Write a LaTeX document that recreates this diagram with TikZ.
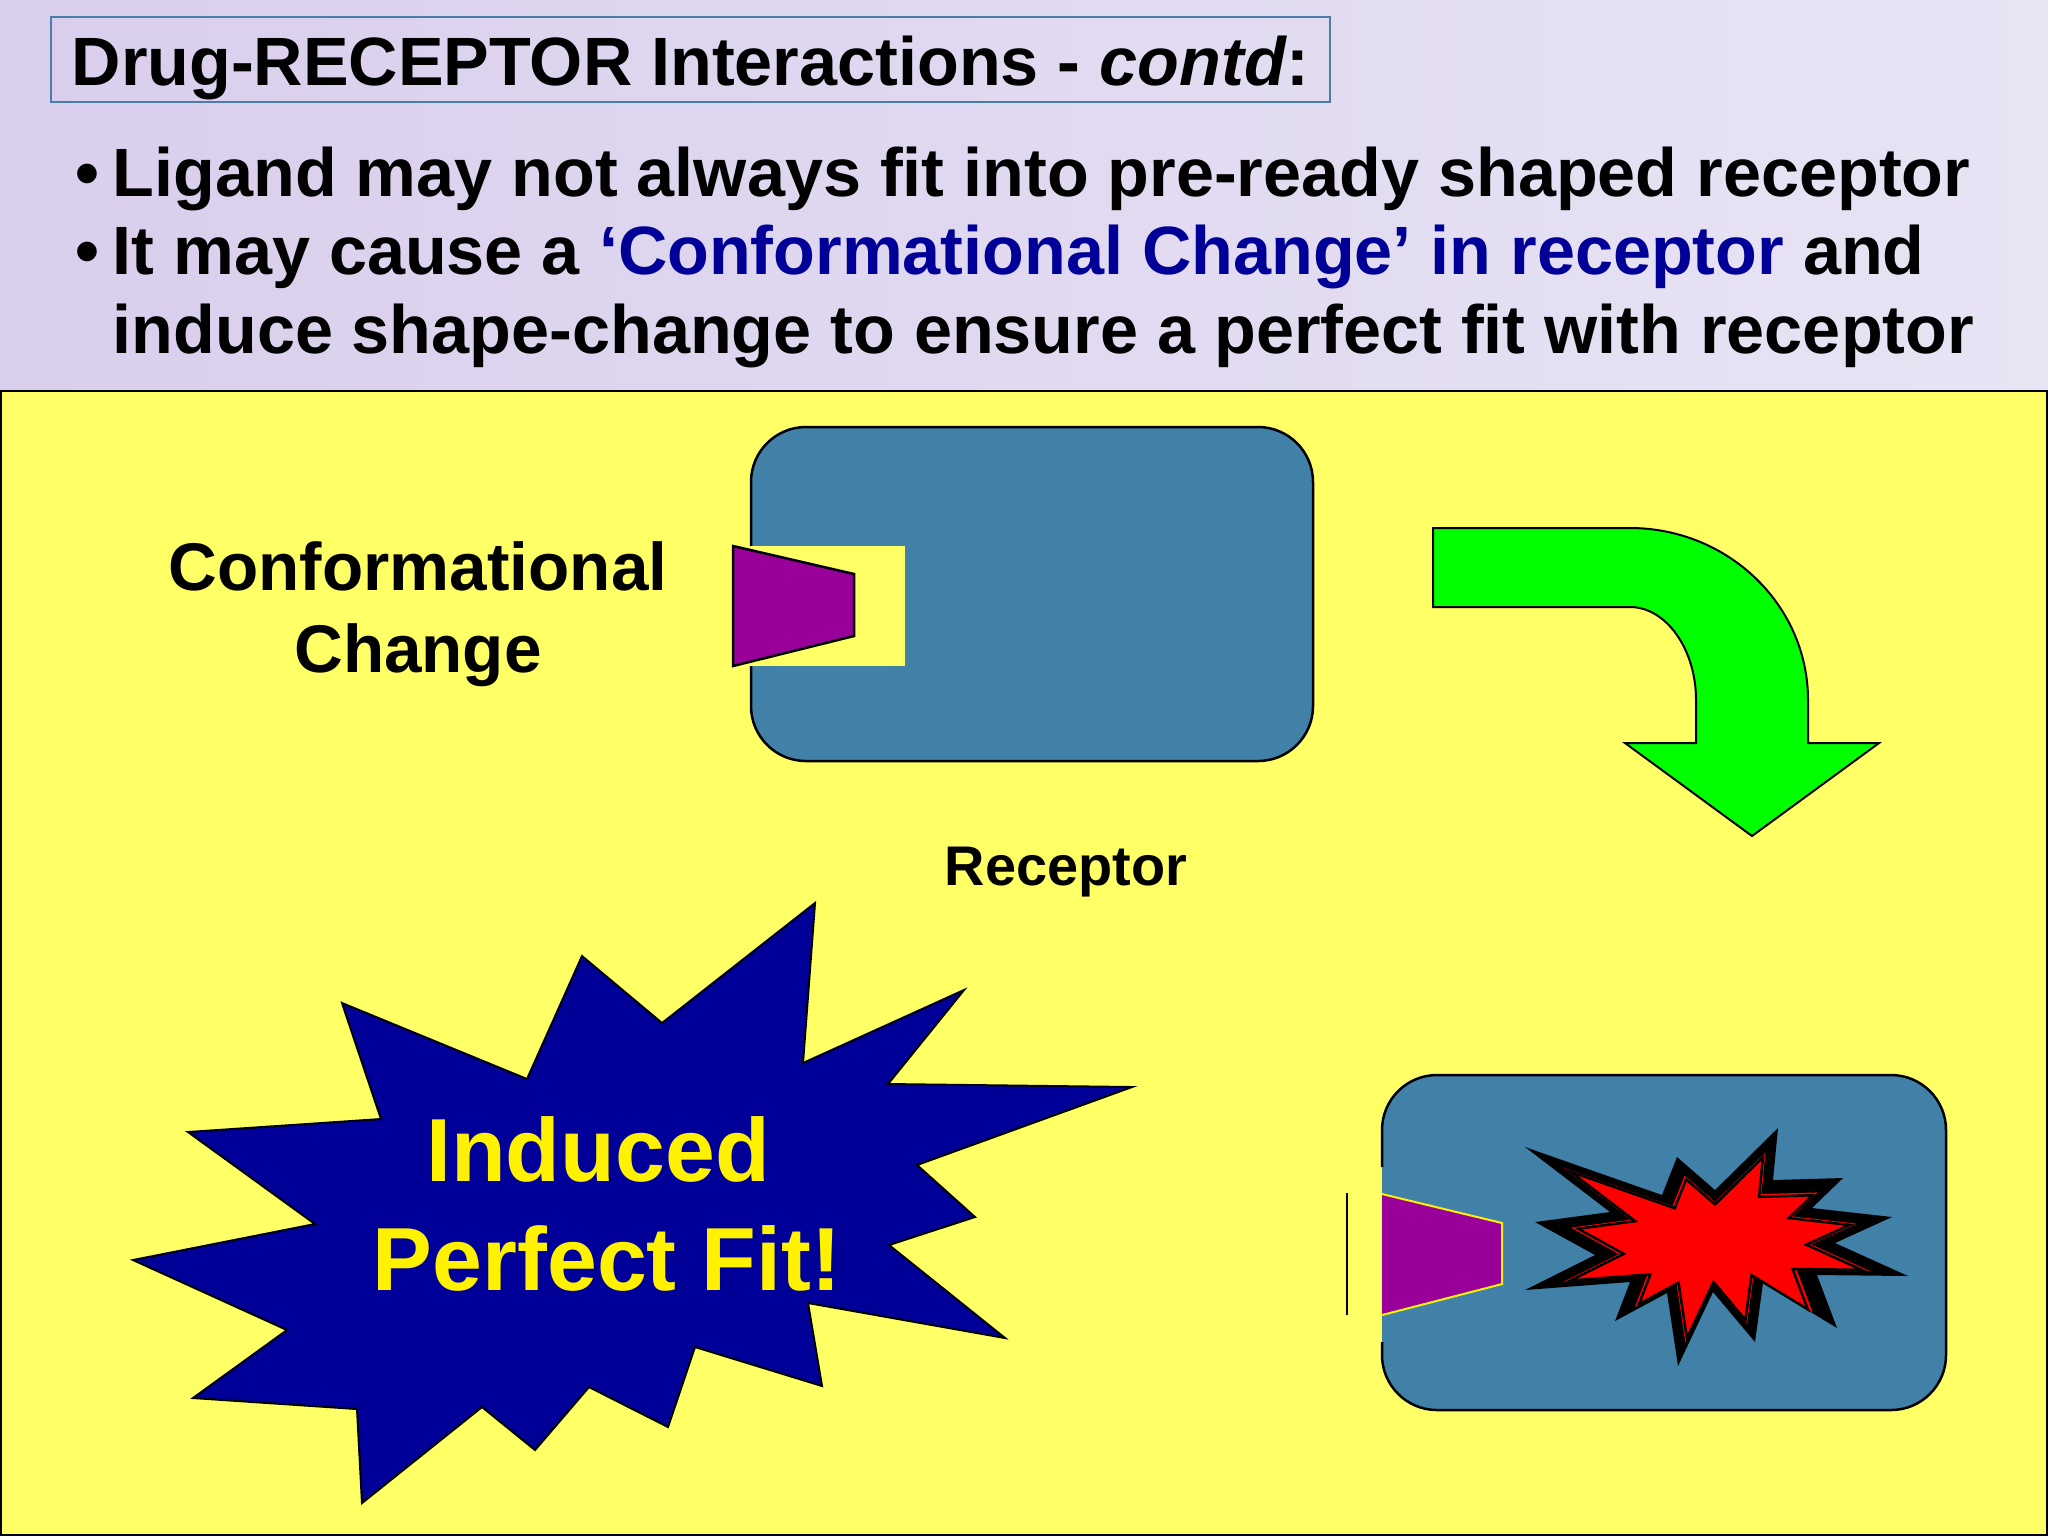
\documentclass[tikz,border=0pt]{standalone}
\usepackage{fontspec}
\setmainfont{Liberation Sans}
\usepackage{tikz}
\usetikzlibrary{positioning}
\definecolor{rcpyellow}{HTML}{FFFF66}
\definecolor{rcpblue}{HTML}{4181A8}
\definecolor{rcpnavy}{HTML}{000099}
\definecolor{rcppurple}{HTML}{990099}
\definecolor{rcpgreen}{HTML}{00FF00}
\definecolor{rcpframe}{HTML}{4A7EA8}
\definecolor{bgleft}{HTML}{D9CEEC}
\definecolor{bgmid}{HTML}{E1E8F8}
\definecolor{bgright}{HTML}{E8E4F4}
\newcommand{\bangpts}{(1525,1147) -- (1662,1195) -- (1677,1157) -- (1715,1190) -- (1778,1128) -- (1773,1180) -- (1843,1178) -- (1812,1208) -- (1892,1217) -- (1835,1243) -- (1908,1276) -- (1817,1275) -- (1837,1328) -- (1763,1283) -- (1755,1342) -- (1713,1292) -- (1678,1366) -- (1667,1293) -- (1615,1321) -- (1630,1282) -- (1525,1290) -- (1595,1255) -- (1535,1222) -- (1610,1212) -- cycle}

\begin{document}
\begin{tikzpicture}[x=0.1mm, y=-0.1mm,
    hfont/.style={font=\fontsize{19.45pt}{23pt}\selectfont\bfseries, anchor=base west, inner sep=0pt},
    labfont/.style={font=\fontsize{19.2pt}{23pt}\selectfont\bfseries, anchor=base, inner sep=0pt},
    fitfont/.style={font=\fontsize{25.5pt}{30pt}\selectfont\bfseries, anchor=base, inner sep=0pt, text=yellow},
    receptor/.style={fill=rcpblue, draw=black, line width=0.25mm, rounded corners=5.5mm},
    ligand/.style={fill=rcppurple}]
  \useasboundingbox (0,0) rectangle (2048,1536);
  \shade[left color=bgleft, middle color=bgmid, right color=bgright] (0,0) rectangle (2048,392);
  \draw[rcpframe, line width=0.15mm] (51,17) rectangle (1330,102);
  \node[hfont] (title) at (71,85) {Drug-RECEPTOR Interactions - \textit{contd}:};
  \node[hfont] (dot1) at (75,196) {•};
  \node[hfont] (line1) at (112,196) {Ligand may not always fit into pre-ready shaped receptor};
  \node[hfont] (dot2) at (75,274) {•};
  \node[hfont] (line2) at (112,274) {It may cause a \textcolor{rcpnavy}{‘Conformational Change’ in receptor} and};
  \node[hfont] (line3) at (112,353) {induce shape-change to ensure a perfect fit with receptor};
  \draw[black, line width=0.2mm, fill=rcpyellow] (1,391) rectangle (2047,1535);

  \filldraw[receptor] (751,427) rectangle (1313,761);
  \fill[rcpyellow] (748,546) rectangle (905,666);
  \filldraw[ligand, draw=black, line width=0.25mm] (733,546) -- (854,574) -- (854,636) -- (733,666) -- cycle;
  \node[labfont] (conf) at (418,590) {Conformational};
  \node[labfont] (change) at (418,672) {Change};
  \node[labfont, font=\fontsize{15.9pt}{19pt}\selectfont\bfseries] (rec) at (1066,885) {Receptor};

  \filldraw[fill=rcpgreen, draw=black, line width=0.2mm] (1433,528) -- (1630,528)
    .. controls (1728,528) and (1808,605) .. (1808,700) -- (1808,743) -- (1879,743)
    -- (1752,836) -- (1625,743) -- (1696,743) -- (1696,700)
    .. controls (1696,649) and (1666,607) .. (1630,607) -- (1433,607) -- cycle;

  \fill[rcpblue, rounded corners=5.5mm] (1382,1075) rectangle (1946,1410);
  \draw[line width=0.25mm, rounded corners=5.5mm] (1382,1167) -- (1382,1075) -- (1946,1075)
    -- (1946,1410) -- (1382,1410) -- (1382,1342);
  \fill[ligand] (1382,1194) -- (1502,1223) -- (1502,1284) -- (1382,1315) -- cycle;
  \draw[yellow, line width=0.2mm] (1382,1194) -- (1502,1223) -- (1502,1284) -- (1382,1315);
  \draw[line width=0.12mm] (1347,1193) -- (1347,1315);
  \fill[black] \bangpts;
  \begin{scope}[shift={(1715,1250)}, scale=0.80, shift={(-1715,-1250)}]
    \fill[red] \bangpts;
  \end{scope}
  \begin{scope}[shift={(1715,1250)}, scale=0.76, shift={(-1715,-1250)}]
    \draw[black, line width=0.25mm] \bangpts;
  \end{scope}

  \filldraw[fill=rcpnavy, draw=black, line width=0.2mm] (342,1003) -- (527,1079) -- (582,956)
    -- (662,1023) -- (815,903) -- (803,1063) -- (964,990) -- (888,1084) -- (1132,1087)
    -- (917,1165) -- (975,1217) -- (889,1245) -- (1005,1338) -- (808,1303) -- (822,1386)
    -- (695,1347) -- (668,1427) -- (589,1387) -- (535,1450) -- (482,1407) -- (362,1503)
    -- (357,1409) -- (193,1398) -- (287,1330) -- (133,1260) -- (315,1224) -- (188,1132)
    -- (381,1119) -- cycle;
  \node[fitfont] (induced) at (598,1181) {Induced};
  \node[fitfont] (perfect) at (607,1290) {Perfect Fit!};
\end{tikzpicture}
\end{document}
